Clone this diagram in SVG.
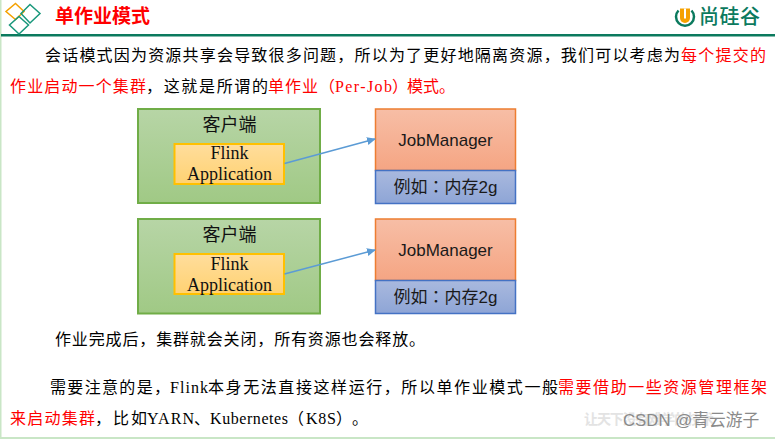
<svg xmlns="http://www.w3.org/2000/svg" width="775" height="439" viewBox="0 0 775 439">
<defs>
<linearGradient id="gG" x1="0" y1="0" x2="0" y2="1"><stop offset="0" stop-color="#b7d5a6"/><stop offset="1" stop-color="#a0c985"/></linearGradient>
<linearGradient id="gY" x1="0" y1="0" x2="0" y2="1"><stop offset="0" stop-color="#ffdd9c"/><stop offset="1" stop-color="#ffd272"/></linearGradient>
<linearGradient id="gO" x1="0" y1="0" x2="0" y2="1"><stop offset="0" stop-color="#f7bea6"/><stop offset="1" stop-color="#f5a583"/></linearGradient>
<linearGradient id="gB" x1="0" y1="0" x2="0" y2="1"><stop offset="0" stop-color="#a9b9de"/><stop offset="1" stop-color="#8ea5d6"/></linearGradient>
<marker id="arr" markerUnits="userSpaceOnUse" markerWidth="9" markerHeight="8" refX="8" refY="4" orient="auto"><path d="M0 0L9 4L0 8Z" fill="#5b9bd5"/></marker>
</defs>
<style>
text{font-family:"Liberation Serif","Noto Sans CJK SC",serif;fill:#000}
.body{font-size:16px}
.r{fill:#f00}
.cn{font-family:"Noto Sans CJK SC",sans-serif;font-size:16px}
.sans{font-family:"Liberation Sans","Noto Sans CJK SC",sans-serif;font-size:17px;fill:#1a1a1a;text-anchor:middle}
.colon{font-family:"Noto Sans CJK TC",sans-serif}
.head{font-family:"Noto Sans CJK SC",sans-serif;font-size:18px;text-anchor:middle;fill:#111}
.app{font-size:18px;text-anchor:middle;fill:#111}
.client{fill:url(#gG);stroke:#70ad47;stroke-width:2}
.inner{fill:url(#gY);stroke:#ffc000;stroke-width:2}
.jm{fill:url(#gO);stroke:#ed7d31;stroke-width:1.5}
.mem{fill:url(#gB);stroke:#4472c4;stroke-width:1.5}
.conn{stroke:#5b9bd5;stroke-width:1.5;fill:none;marker-end:url(#arr)}
</style>
<rect width="775" height="439" fill="#fff"/>
<rect x="0" y="0" width="1.5" height="439" fill="#c9e6c6"/>
<rect x="0" y="437" width="775" height="2" fill="#c9e6c6"/>
<rect x="1" y="34" width="774" height="2.5" fill="#0b7a5e"/>
<g id="deco" fill="none" stroke-width="1.5">
<path d="M15.500 3.500L24 11.500L15.500 19.500L6 11.500Z" stroke="#f5a100"/>
<path d="M30 4.500L40 13.500L30 23L21 13.500Z" stroke="#18977b"/>
<path d="M19 16.500L28.500 25L19 34L9.500 25Z" stroke="#18977b"/>
</g>
<text x="55" y="23" class="r" style="font-family:'Noto Sans CJK SC',sans-serif;font-size:19px;font-weight:700" textLength="95">单作业模式</text>
<g id="logo">
<path d="M678.500 10.500A9 9 0 1 0 691.500 10.500" fill="none" stroke="#0b7a5e" stroke-width="2.500"/>
<path d="M680 8.500H690V18A5 5 0 0 1 680 18Z" fill="#f5a100"/>
<rect x="684" y="8.500" width="2" height="10" fill="#fff"/>
<text x="699" y="24" style="font-family:'Noto Sans CJK SC',sans-serif;font-size:20px;font-weight:500;fill:#0b7a5e" textLength="61">尚硅谷</text>
</g>
<text x="45" y="61" class="cn" textLength="635">会话模式因为资源共享会导致很多问题，所以为了更好地隔离资源，我们可以考虑为</text>
<text x="681" y="61" class="cn r" textLength="85">每个提交的</text>
<text x="10" y="92" class="cn r" textLength="136">作业启动一个集群</text>
<text x="146" y="92" class="cn" textLength="122">，这就是所谓的</text>
<text x="268" y="92" class="cn r" textLength="50">单作业</text>
<text x="319" y="92" class="cn r">（</text>
<text x="335" y="92" class="body r" textLength="57">Per-Job</text>
<text x="392" y="92" class="cn r">）</text>
<text x="407" y="92" class="cn r">模式。</text>
<g id="client1"><rect class="client" x="138" y="109" width="182" height="94"/><text x="229.500" y="131" class="head">客户端</text></g>
<g id="app1"><rect class="inner" x="174.500" y="144" width="109.500" height="40"/><text x="229.500" y="159" class="app">Flink</text><text x="229.500" y="180" class="app">Application</text></g>
<g id="jm1"><rect class="jm" x="375.500" y="109" width="140" height="61.500"/><text x="445.500" y="146" class="sans">JobManager</text></g>
<g id="mem1"><rect class="mem" x="375.500" y="170.500" width="140" height="33"/><text x="445.500" y="193" class="sans">例如<tspan class="colon">：</tspan>内存2g</text></g>
<g id="client2"><rect class="client" x="138" y="219" width="182" height="94.500"/><text x="229.500" y="241" class="head">客户端</text></g>
<g id="app2"><rect class="inner" x="174.500" y="254" width="109.500" height="40"/><text x="229.500" y="270" class="app">Flink</text><text x="229.500" y="291" class="app">Application</text></g>
<g id="jm2"><rect class="jm" x="375.500" y="219" width="140" height="61.500"/><text x="445.500" y="256" class="sans">JobManager</text></g>
<g id="mem2"><rect class="mem" x="375.500" y="280.500" width="140" height="33"/><text x="445.500" y="303" class="sans">例如<tspan class="colon">：</tspan>内存2g</text></g>
<g id="connectors">
<path class="conn" d="M284.500 163.500L375 139"/>
<path class="conn" d="M284.500 274L375 250"/>
</g>
<text x="55" y="345" class="cn" textLength="370">作业完成后，集群就会关闭，所有资源也会释放。</text>
<text x="50" y="393" class="cn" textLength="120">需要注意的是，</text>
<text x="170" y="393" class="body" textLength="38">Flink</text>
<text x="208" y="393" class="cn" textLength="350">本身无法直接这样运行，所以单作业模式一般</text>
<text x="558" y="393" class="cn r" textLength="209">需要借助一些资源管理框架</text>
<text x="10" y="424" class="cn r" textLength="85">来启动集群</text>
<text x="95" y="424" class="cn">，</text>
<text x="113" y="424" class="cn" textLength="34">比如</text>
<text x="147" y="424" class="body" textLength="47">YARN</text>
<text x="194" y="424" class="cn">、</text>
<text x="210" y="424" class="body" textLength="78">Kubernetes</text>
<text x="288" y="424" class="cn">（</text>
<text x="306" y="424" class="body" textLength="30">K8S</text>
<text x="336" y="424" class="cn">）</text>
<text x="352" y="424" class="cn">。</text>
<text x="584" y="424" style="font-family:'Noto Sans CJK SC',sans-serif;font-size:14px;fill:#e3e3e3;font-weight:700" textLength="130">让天下没有难学的技术</text>
<text x="623" y="426" style="font-family:'Liberation Sans','Noto Sans CJK SC',sans-serif;font-size:16.800px;fill:#8a8a8a">CSDN @青云游子</text>
</svg>
